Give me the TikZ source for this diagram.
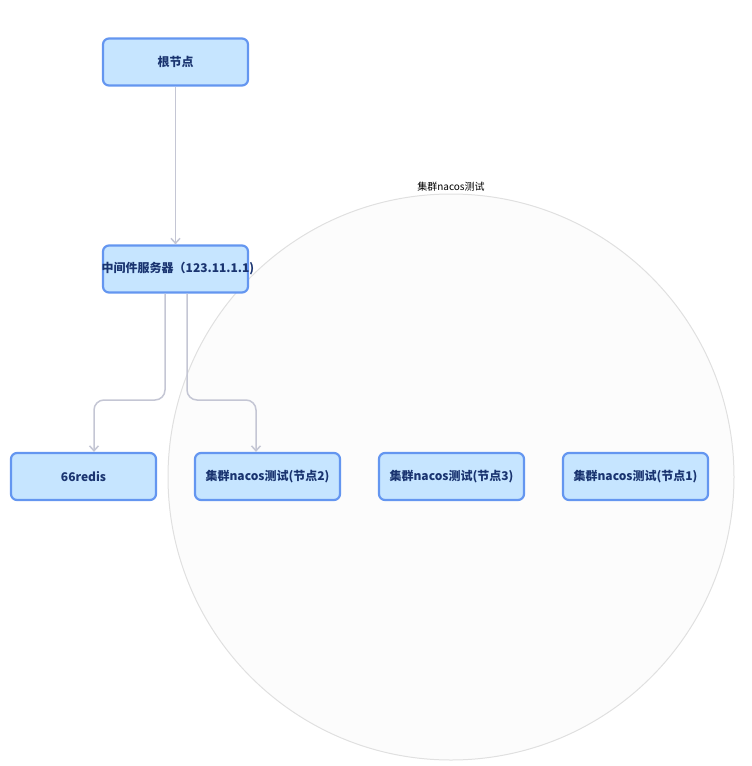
\documentclass[tikz,border=0pt]{standalone}
\usepackage{fontspec}
\setmainfont{Noto Sans CJK SC}
\usetikzlibrary{arrows.meta}
\definecolor{nfill}{HTML}{C6E5FF}
\definecolor{ndraw}{HTML}{6496F0}
\definecolor{ntext}{HTML}{1A3470}
\definecolor{edge}{HTML}{C4C6D4}
\begin{document}
\begin{tikzpicture}[x=1pt,y=-1pt,
  box/.style={draw=ndraw,fill=nfill,line width=2.2pt,rounded corners=6pt,minimum width=145pt,minimum height=47pt,inner sep=0pt,text=ntext,font=\bfseries\fontsize{12}{14}\selectfont},
  conn/.style={draw=edge,line width=1.5pt,rounded corners=10pt,-{Straight Barb[length=5pt,width=9pt]}}]
\useasboundingbox (0,0) rectangle (752,766);
\node[circle,draw=black!12,fill=black!1,line width=1pt,minimum size=566pt,inner sep=0pt] (grp) at (451,477) {};
\node[font=\fontsize{10}{12}\selectfont] (glabel) at (451,187) {集群nacos测试};
\node[box] (root) at (175.5,62) {根节点};
\node[box] (mid) at (175.5,269) {};
\node[text=ntext,font=\bfseries\fontsize{12}{14}\selectfont] (midt) at (178,269) {中间件服务器（123.11.1.1)};
\node[box] (redis) at (83.5,476.5) {66redis};
\node[box] (n2) at (267.5,476.5) {集群nacos测试(节点2)};
\node[box] (n3) at (451.5,476.5) {集群nacos测试(节点3)};
\node[box] (n1) at (635.5,476.5) {集群nacos测试(节点1)};
\draw[conn] (root.south) -- (mid.north);
\draw[conn] ([xshift=-10.5pt]mid.south) -- (165,400) -- (94,400) -- ([xshift=10.5pt]redis.north);
\draw[conn] ([xshift=11.5pt]mid.south) -- (187,400) -- (256,400) -- ([xshift=-11.5pt]n2.north);
\end{tikzpicture}
\end{document}
